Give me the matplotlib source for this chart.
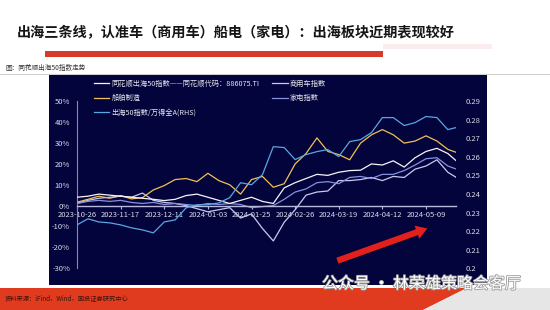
import matplotlib
matplotlib.use('Agg')
import matplotlib.pyplot as plt
from matplotlib.lines import Line2D
from matplotlib.patches import Rectangle, Polygon
from matplotlib.ticker import FuncFormatter
import matplotlib.patheffects as pe

plt.rcParams['font.family'] = ['Noto Sans CJK SC', 'DejaVu Sans']

W, H = 550, 310

# trading-day index since 2023-10-26
days = [0, 4, 8, 12, 16, 20, 24, 28, 32, 36, 40, 44, 48, 52, 56, 60, 64, 68,
        72, 76, 80, 84, 88, 92, 96, 100, 104, 108, 112, 116, 120, 124, 128, 132, 136, 139]
tick_days = [0, 16, 32, 48, 64, 80, 96, 112, 128]
tick_labels = ['2023-10-26', '2023-11-17', '2023-12-11', '2024-01-03', '2024-01-25',
               '2024-02-26', '2024-03-19', '2024-04-12', '2024-05-09']

# cumulative return, %
export50 = [4.0, 4.5, 5.5, 5.0, 4.5, 4.0, 3.5, 3.0, 2.4, 3.0, 4.8, 5.5, 4.0, 2.5, 1.0, 2.5, 4.0, 2.0,
            1.0, 8.5, 11.0, 13.0, 15.0, 14.5, 16.0, 16.8, 17.0, 20.0, 19.5, 21.5, 18.5, 23.0, 26.0, 27.5, 25.0, 21.6]
shipbuilding = [1.6, 3.0, 4.5, 3.5, 4.8, 3.2, 3.8, 7.5, 9.6, 12.5, 13.0, 11.5, 15.5, 12.0, 10.0, 5.5, 12.5, 14.0,
                8.8, 10.5, 20.0, 25.0, 32.5, 26.0, 24.5, 22.0, 30.0, 34.0, 36.5, 34.0, 30.0, 31.0, 33.5, 31.0, 27.0, 25.6]
commercial = [1.0, 2.5, 3.5, 4.0, 4.5, 4.0, 6.0, 2.5, 1.5, 1.0, 0.0, -1.5, -3.0, -2.0, -1.0, -6.0, -4.0, -11.0,
              -17.0, -8.0, -2.0, 5.0, 6.5, 7.0, 12.0, 12.0, 12.5, 13.5, 12.0, 14.0, 13.5, 17.5, 19.0, 22.0, 16.0, 13.6]
appliance = [1.0, 2.0, 2.5, 2.0, 2.5, 1.5, 1.0, 1.5, 0.5, 1.0, 0.5, 0.0, 1.0, 0.5, 1.0, 0.5, -1.0, -0.5,
             0.0, 3.0, 6.5, 8.0, 11.0, 11.5, 10.5, 13.5, 14.0, 13.0, 15.0, 15.0, 16.8, 19.5, 22.5, 23.0, 19.0, 17.6]
# 出海50 / 万得全A, right axis
ratio_rhs = [0.2233, 0.2266, 0.2249, 0.2244, 0.2233, 0.2217, 0.2206, 0.2190, 0.2249, 0.2260, 0.2325, 0.2342,
             0.2342, 0.2352, 0.2380, 0.2461, 0.2450, 0.2504, 0.2656, 0.2651, 0.2586, 0.2613, 0.2629, 0.2640,
             0.2602, 0.2683, 0.2694, 0.2732, 0.2813, 0.2813, 0.2770, 0.2786, 0.2819, 0.2813, 0.2748, 0.2759]
left_ticks = [-30, -20, -10, 0, 10, 20, 30, 40, 50]
right_ticks = [0.20, 0.21, 0.22, 0.23, 0.24, 0.25, 0.26, 0.27, 0.28, 0.29]


def fx(px):
    return px / W


def fy(py):
    return 1 - py / H


fig = plt.figure(figsize=(5.5, 3.1), dpi=100)
fig.patch.set_facecolor('white')

# slide decoration, kept under the axes
deco = dict(transform=fig.transFigure, lw=0, zorder=-5)
fig.text(fx(17), fy(33), '出海三条线，认准车（商用车）船电（家电）：出海板块近期表现较好',
         fontsize=10.2, fontweight='bold', color='#151515', va='center', ha='left')
fig.add_artist(Rectangle((fx(383), fy(49)), (492 - 383) / W, 5 / H, color='#fbeded', **deco))
fig.add_artist(Rectangle((fx(45), fy(57)), (383 - 45) / W, 6 / H, color='#d63a2b', **deco))
fig.text(fx(5), fy(68), '图：同花顺出海50指数走势', fontsize=4.8, color='#333333', va='center')
fig.add_artist(Line2D([0, 1], [fy(74), fy(74)], transform=fig.transFigure, color='#d0d0d0', lw=0.8,
                      zorder=-5))
fig.add_artist(Rectangle((fx(49), fy(285)), (487 - 49) / W, (285 - 75) / H, color='#04043c', **deco))
fig.add_artist(Polygon([(0, fy(288)), (fx(467), fy(288)), (fx(423), 0), (0, 0)], closed=True,
                       color='#e03b1e', **deco))
fig.add_artist(Polygon([(fx(467), fy(288)), (1, fy(288)), (1, 0), (fx(423), 0)], closed=True,
                       color='#e6e6e6', **deco))
fig.text(fx(5), fy(298), '资料来源：iFind，Wind，国投证券研究中心', fontsize=4.5, color='#3a1410', va='center')

# chart
ax = fig.add_axes([fx(77), fy(268), (456 - 77) / W, (268 - 101.5) / H])
ax.set_facecolor('none')
ax2 = ax.twinx()

l_exp, = ax.plot(days, export50, color='#f4f4f8', lw=0.9, zorder=4)
l_ship, = ax.plot(days, shipbuilding, color='#f0c055', lw=0.9, zorder=3)
l_com, = ax.plot(days, commercial, color='#c9c9ef', lw=0.9, zorder=2)
l_app, = ax.plot(days, appliance, color='#8690e2', lw=0.9, zorder=2)
l_rhs, = ax2.plot(days, ratio_rhs, color='#58a6e2', lw=0.9)

ax.set_xlim(0, 139)
ax.set_ylim(-30, 50)
ax2.set_ylim(0.2, 0.29)
ax.set_yticks(left_ticks)
ax.yaxis.set_major_formatter(FuncFormatter(lambda v, p: f'{v:.0f}%'))
ax2.set_yticks(right_ticks)
ax2.yaxis.set_major_formatter(FuncFormatter(lambda v, p: f'{v:.2f}'.rstrip('0')))
ax.set_xticks(tick_days)
ax.set_xticklabels(tick_labels)

for s in ['top', 'right']:
    ax.spines[s].set_visible(False)
for s in ax2.spines.values():
    s.set_visible(False)
ax.spines['left'].set_color('#8a8ab0')
ax.spines['left'].set_linewidth(0.8)
ax.spines['bottom'].set_position(('data', 0))
ax.spines['bottom'].set_color('#b8b8dc')
ax.spines['bottom'].set_linewidth(1.0)

ax.tick_params(axis='y', length=0, pad=5, labelsize=5.5, labelcolor='#d8d8e8')
ax.tick_params(axis='x', length=2, pad=2, labelsize=5.5, labelcolor='#d8d8e8', color='#b8b8dc')
ax2.tick_params(axis='y', length=0, pad=7, labelsize=5.5, labelcolor='#d8d8e8')

ax.annotate('', xy=(128.5, -11), xytext=(95.5, -26.5),
            arrowprops=dict(arrowstyle='simple,head_length=0.8,head_width=1.0,tail_width=0.45',
                            color='#e3201b', lw=0, shrinkA=0, shrinkB=0))

handles = [l_exp, l_ship, l_rhs, l_com, l_app]
labels = ['同花顺出海50指数——同花顺代码：886075.TI', '船舶制造', '出海50指数/万得全A(RHS)',
          '商用车指数', '家电指数']
fig.legend(handles, labels, ncol=2, loc='upper left', bbox_to_anchor=(fx(94), fy(80)),
           frameon=False, fontsize=5.2, handlelength=2.1, handletextpad=0.3, columnspacing=1.8,
           labelspacing=0.85, borderaxespad=0, borderpad=0, labelcolor='#e8e8f0')

fig.text(fx(322), fy(284), '公众号 · 林荣雄策略会客厅', fontsize=11.5, color='white', va='center',
         path_effects=[pe.withStroke(linewidth=1.2, foreground='#9a9a9a')])

fig.savefig('out.png', dpi=100)
